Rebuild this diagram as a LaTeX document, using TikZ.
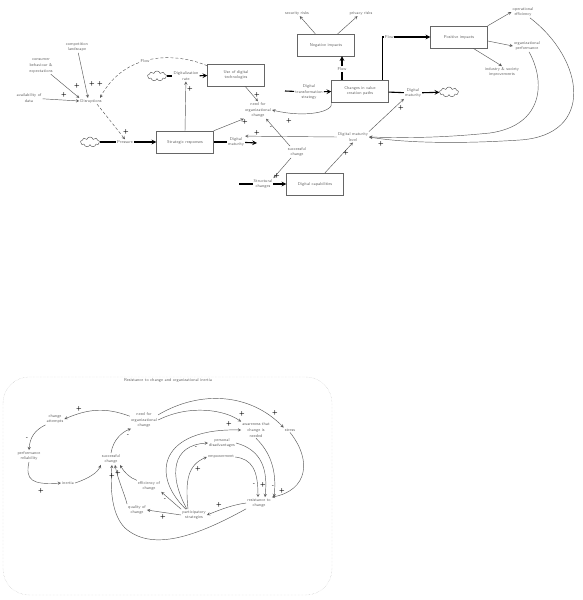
\documentclass[tikz,border=0pt]{standalone}
\usepackage{amsmath,amssymb}
\usepackage{tikz}
\usetikzlibrary{shapes.symbols}

\begin{document}
\begin{tikzpicture}[x=1pt, y=-1pt, >=stealth,
		var_style/.style={align=center,text=black!60,inner sep=1pt,font=\sffamily\fontsize{4.2}{5.6}\selectfont},
		box_style/.style={var_style,draw=black!60,fill=white,minimum width=57pt,minimum height=22pt},
		cloud_style/.style={cloud,draw=black!70,cloud puffs=9,aspect=2,minimum width=19pt,minimum height=10pt,inner sep=0pt},
		link_style/.style={draw=black!65,line width=0.45pt,->},
		dash_style/.style={link_style,densely dashed},
		flow_style/.style={draw=black,line width=1.1pt},
		sign_style/.style={inner sep=0pt,font=\sffamily\bfseries\fontsize{6.5}{6.5}\selectfont},
		frame_style/.style={draw=black!25,densely dotted,rounded corners=26pt}]
		
		\useasboundingbox (0,0) rectangle (582,600);
		
		\node[var_style] (comp) at (77,47)  {competition\\landscape};
		\node[var_style] (cons) at (41,66)  {consumer\\behaviour \&\\expectations};
		\node[var_style] (avail) at (29,98)  {availability of\\data};
		\node[var_style] (disr) at (91,101)  {Disruptions};
		\node[cloud_style] (c1) at (90,142)  {};
		\node[var_style] (press) at (125,142)  {Pressure};
		\node[box_style] (strat) at (185,142)  {Strategic responses};
		\node[cloud_style] (c2) at (157,76)  {};
		\node[var_style] (digrate) at (186,76)  {Digitalization\\rate};
		\node[box_style] (use) at (236,75)  {Use of digital\\technologies};
		\node[var_style] (need) at (258,110)  {need for\\organizational\\change};
		\node[var_style] (dmat1) at (236,142)  {Digital\\maturity};
		\coordinate (dmat1out) at (257,143);
		\node[var_style] (succ) at (297,152)  {successful\\change};
		\coordinate (structin) at (239,184);
		\node[var_style] (struct) at (263,184)  {Structural\\changes};
		\node[box_style] (cap) at (315,184)  {Digital capabilities};
		\node[var_style] (level) at (353,137)  {Digital maturity\\level};
		\coordinate (dtsin) at (285,91);
		\node[var_style] (dts) at (309,92)  {Digital\\transformation\\strategy};
		\node[box_style] (value) at (360,91)  {Changes in value\\creation paths};
		\node[var_style] (dmat2) at (413,93)  {Digital\\maturity};
		\node[cloud_style] (c3) at (449,92)  {};
		\node[var_style] (flow1) at (342,69)  {Flow};
		\node[box_style] (neg) at (326,45)  {Negative impacts};
		\node[var_style] (sec) at (297,13)  {security risks};
		\node[var_style] (priv) at (361,13)  {privacy risks};
		\node[box_style] (pos) at (459,37)  {Positive impacts};
		\node[var_style] (opeff) at (523,12)  {operational\\efficiency};
		\node[var_style] (orgperf) at (527,46)  {organizational\\performance};
		\node[var_style] (ind) at (502,72)  {industry \& society\\improvements};
		
		\draw[flow_style] (c1) -- (press);
		\draw[flow_style,->] (press) -- (strat);
		\draw[flow_style] (c2) -- (digrate);
		\draw[flow_style,->] (digrate) -- (use);
		\draw[flow_style] (strat) -- (dmat1);
		\draw[flow_style,->] (dmat1) -- (dmat1out);
		\draw[flow_style] (dtsin) -- (dts);
		\draw[flow_style,->] (dts) -- (value);
		\draw[flow_style] (structin) -- (struct);
		\draw[flow_style,->] (struct) -- (cap);
		\draw[flow_style] (value) -- (dmat2);
		\draw[flow_style,->] (dmat2) -- (c3);
		\draw[flow_style] (flow1 |- value.north) -- (flow1);
		\draw[flow_style,->] (flow1) -- (flow1 |- neg.south);
		\draw[flow_style,->] ([xshift=-6pt]value.north east) |- node[var_style,pos=0.57,fill=white,inner sep=0.5pt] (flow2) {Flow} (pos.west);
		
		\draw[link_style] (comp) -- ([xshift=-3pt]disr.north);
		\draw[link_style] (cons) -- (disr.north west);
		\draw[link_style] (avail) -- (disr.west);
		\draw[dash_style] ([yshift=-2pt]use.north west) .. controls (175,52) and (125,52) .. node[var_style,pos=0.55,fill=white,inner sep=0.3pt]{Flow} ([xshift=9pt]disr.north);
		\draw[dash_style] ([xshift=6pt]disr.south) -- (press.north);
		\draw[link_style] (strat.north) -- (digrate);
		\draw[link_style] ([xshift=9pt]use.south) -- (need.north);
		\draw[link_style] (strat.north east) -- (need.south west);
		\draw[link_style] ([xshift=-7pt]succ.north) -- ([xshift=8pt]need.south);
		\draw[link_style] (value.south west) .. controls (335,112) and (305,118) .. (need.east);
		\draw[link_style] (level.west) -- (dmat1.north east);
		\draw[link_style] ([xshift=-6pt]succ.south) -- (struct.north east);
		\draw[link_style] ([xshift=10pt]cap.north) -- (level.south);
		\draw[link_style] (level.north east) -- (dmat2.south west);
		\draw[link_style] (neg.north west) ++(18,0) -- (sec);
		\draw[link_style] (neg.north east) ++(-17,0) -- (priv);
		\draw[link_style] (pos.north east) -- (opeff.west);
		\draw[link_style] ([yshift=-4pt]pos.east) -- (orgperf.west);
		\draw[link_style] ([xshift=14pt]pos.south) -- (ind.north);
		\draw[link_style] ([xshift=7pt]opeff.south) .. controls (585,60) and (595,135) .. (520,140) .. controls (460,144) and (405,143) .. (level.east);
		\draw[link_style] ([xshift=2pt]orgperf.south) .. controls (545,80) and (545,125) .. (490,133) .. controls (440,138) and (405,138) .. (level.east);
		
		\node[sign_style] at (92,84) {+};
		\node[sign_style] at (100,84) {+};
		\node[sign_style] at (77,86) {+};
		\node[sign_style] at (64,95) {+};
		\node[sign_style] at (126,132) {+};
		\node[sign_style] at (190,89) {+};
		\node[sign_style] at (257,95) {+};
		\node[sign_style] at (245,122) {+};
		\node[sign_style] at (271,128) {-};
		\node[sign_style] at (289,121) {+};
		\node[sign_style] at (257,133) {+};
		\node[sign_style] at (277,176) {+};
		\node[sign_style] at (346,153) {+};
		\node[sign_style] at (401,108) {+};
		\node[sign_style] at (381,144) {+};
		
		\draw[frame_style] (3,377) rectangle (332,595);
		\node[var_style] (title) at (168,380) {Resistance to change and organizational inertia};
		
		\node[var_style] (b_need) at (144,420)  {need for\\organizational\\change};
		\node[var_style] (b_attempts) at (55,419)  {change\\attempts};
		\node[var_style] (b_perf) at (29,456)  {performance\\reliability};
		\node[var_style] (b_inertia) at (68,483)  {inertia};
		\node[var_style] (b_succ) at (111,459)  {successful\\change};
		\node[var_style] (b_eff) at (149,486)  {efficiency of\\change};
		\node[var_style] (b_qual) at (137,510)  {quality of\\change};
		\node[var_style] (b_part) at (194,515)  {participatory\\strategies};
		\node[var_style] (b_resist) at (259,503)  {resistance to\\change};
		\node[var_style] (b_aware) at (256,430)  {awareness that\\change is\\needed};
		\node[var_style] (b_stress) at (290,430)  {stress};
		\node[var_style] (b_pers) at (222,443)  {personal\\disadvantages};
		\node[var_style] (b_emp) at (221,457)  {empowerment};
		
		\draw[link_style] (b_need.165) .. controls (105,407) and (88,409) .. (b_attempts.east);
		\draw[link_style] (b_attempts.south west) .. controls (35,430) and (30,437) .. (b_perf.north);
		\draw[link_style] (b_perf.south) .. controls (25,480) and (32,485) .. (b_inertia.west);
		\draw[link_style] (b_inertia.east) .. controls (90,478) and (98,472) .. (b_succ.south west);
		\draw[link_style] (b_succ.north) .. controls (113,440) and (122,432) .. ([xshift=-13pt]b_need.south);
		\draw[link_style] (b_eff.155) .. controls (130,478) and (124,472) .. ([xshift=9pt]b_succ.south);
		\draw[link_style] (b_qual.north west) .. controls (125,495) and (118,480) .. ([xshift=4pt]b_succ.south);
		\draw[link_style] (b_resist.south west) .. controls (190,540) and (150,550) .. (125,528) .. controls (112,515) and (110,490) .. ([xshift=1pt]b_succ.south);
		\draw[link_style] (b_part.north west) -- (b_eff.south east);
		\draw[link_style] (b_part.west) -- (b_qual.east);
		\draw[link_style] (b_resist.west) .. controls (232,505) and (222,509) .. (b_part.east);
		\draw[link_style] ([xshift=-6pt]b_part.north) .. controls (185,480) and (188,465) .. (b_emp.west);
		\draw[link_style] ([xshift=-7pt]b_part.north) .. controls (168,475) and (172,445) .. (b_pers.west);
		\draw[link_style] ([xshift=-8pt]b_part.north) .. controls (150,475) and (160,428) .. (b_aware.west);
		\draw[link_style] (b_need.east) .. controls (190,404) and (225,410) .. (b_aware.north west);
		\draw[link_style] (b_need.20) .. controls (200,390) and (250,393) .. (b_stress.north west);
		\draw[link_style] (b_emp.east) .. controls (252,459) and (258,470) .. ([xshift=-1pt]b_resist.north);
		\draw[link_style] (b_pers.east) .. controls (262,450) and (268,470) .. ([xshift=6pt]b_resist.north);
		\draw[link_style] (b_aware.south) .. controls (270,452) and (277,470) .. ([xshift=15pt]b_resist.north);
		\draw[link_style] (b_stress.south) .. controls (312,460) and (308,490) .. (b_resist.north east);
		
		\node[sign_style] at (79,409) {+};
		\node[sign_style] at (27,439) {-};
		\node[sign_style] at (41,491) {+};
		\node[sign_style] at (128,436) {-};
		\node[sign_style] at (112,476) {+};
		\node[sign_style] at (118,473) {+};
		\node[sign_style] at (165,500) {-};
		\node[sign_style] at (163,517) {+};
		\node[sign_style] at (219,505) {+};
		\node[sign_style] at (198,469) {+};
		\node[sign_style] at (196,448) {-};
		\node[sign_style] at (229,424) {+};
		\node[sign_style] at (242,414) {+};
		\node[sign_style] at (275,413) {+};
		\node[sign_style] at (254,485) {-};
		\node[sign_style] at (263,485) {+};
		\node[sign_style] at (273,487) {-};
		\node[sign_style] at (282,491) {+};
		
		\end{tikzpicture}
\end{document}
